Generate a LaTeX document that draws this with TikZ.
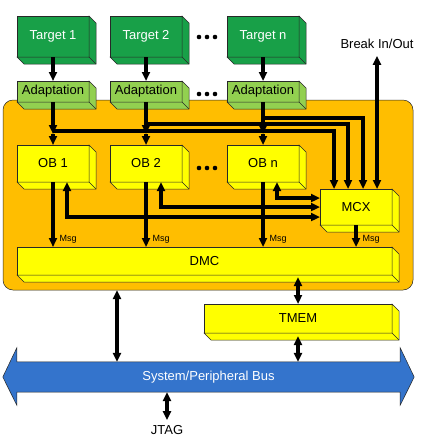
\documentclass[tikz,border=0pt]{standalone}
\usepackage{fontspec}
\setmainfont{Liberation Sans}
\usetikzlibrary{arrows.meta,backgrounds}
\definecolor{tgreen}{RGB}{24,160,72}
\definecolor{agreen}{RGB}{146,208,80}
\definecolor{byellow}{RGB}{255,255,0}
\definecolor{corange}{RGB}{255,190,0}
\definecolor{busblue}{RGB}{52,116,204}
\definecolor{boxline}{RGB}{40,40,40}
\newcommand\boxsides[2]{%
  \filldraw[fill=#2,draw=boxline,line width=0.5pt]
    (#1.north east) -- ++(7pt,-7pt) -- ([shift={(7pt,-7pt)}]#1.south east)
    -- ([shift={(7pt,-7pt)}]#1.south west) -- (#1.south west) -- (#1.south east) -- cycle;
  \draw[boxline,line width=0.5pt] (#1.south east) -- ++(7pt,-7pt);
}
\tikzset{
  box/.style={draw=boxline, line width=0.5pt, inner sep=0pt, outer sep=0pt,
    font=\fontsize{13}{15}\selectfont},
  tbox/.style={box, fill=tgreen, text=white, minimum width=72pt, minimum height=41pt},
  abox/.style={box, fill=agreen, minimum width=72pt, minimum height=21pt},
  obox/.style={box, fill=byellow, minimum width=72pt, minimum height=37pt},
  arr/.style={line width=3.4pt, -{Triangle[length=9pt,width=8pt]}},
  arr2/.style={line width=3.4pt, {Triangle[length=9pt,width=8pt]}-{Triangle[length=9pt,width=8pt]}},
  msg/.style={font=\fontsize{9}{10}\selectfont, anchor=west, inner sep=0pt},
  lbl/.style={font=\fontsize{13}{15}\selectfont, inner sep=0pt},
}
\begin{document}
\begin{tikzpicture}[x=1pt,y=-1pt]
\useasboundingbox (0,0) rectangle (433,445);
% core region
\node[draw=boxline, line width=0.5pt, fill=corange, rounded corners=10pt,
      minimum width=410pt, minimum height=190pt, inner sep=0pt, outer sep=0pt] (core) at (208,195) {};
% targets
\node[tbox] (T1) at (53,36.5) {Target 1};
\node[tbox] (T2) at (146,36.5) {Target 2};
\node[tbox] (Tn) at (263,36.5) {Target n};
\boxsides{T1}{tgreen}\boxsides{T2}{tgreen}\boxsides{Tn}{tgreen}
% adaptation
\node[abox] (A1) at (53,91.5) {Adaptation};
\node[abox] (A2) at (146,91.5) {Adaptation};
\node[abox] (An) at (263,91.5) {Adaptation};
\boxsides{A1}{agreen}\boxsides{A2}{agreen}\boxsides{An}{agreen}
% OBs
\node[obox] (OB1) at (53,163.5) {OB 1};
\node[obox] (OB2) at (146,163.5) {OB 2};
\node[obox] (OBn) at (263,163.5) {OB n};
\boxsides{OB1}{byellow}\boxsides{OB2}{byellow}\boxsides{OBn}{byellow}
% MCX
\node[box, fill=byellow, minimum width=72pt, minimum height=36pt] (MCX) at (356,207) {MCX};
\boxsides{MCX}{byellow}
% DMC
\node[box, fill=byellow, minimum width=375pt, minimum height=28pt] (DMC) at (204.5,261) {DMC};
\boxsides{DMC}{byellow}
% TMEM
\node[box, fill=byellow, minimum width=188pt, minimum height=29pt] (TMEM) at (298,318.5) {TMEM};
\boxsides{TMEM}{byellow}
% bus
\node[lbl, text=white, minimum width=383pt, minimum height=30pt] (bus) at (208.5,377) {System/Peripheral Bus};
\begin{scope}[on background layer]
\filldraw[fill=busblue, draw=boxline, line width=0.5pt]
  ([xshift=-14pt]bus.west) -- ([yshift=14pt]bus.north west) -- (bus.north west)
  -- (bus.north east) -- ([yshift=14pt]bus.north east) -- ([xshift=14pt]bus.east)
  -- ([yshift=-13pt]bus.south east) -- (bus.south east) -- (bus.south west)
  -- ([yshift=-13pt]bus.south west) -- cycle;
\end{scope}
% labels
\node[lbl] (brk) at (377,44) {Break In/Out};
\node[lbl] (jtag) at (167,430) {JTAG};
% dots
\foreach \yy in {37,94,168} {
  \foreach \xx in {199,207,215} { \fill (\xx,\yy) circle (2.3pt); }
}
% coordinates
\coordinate (m1) at (53,134);
\coordinate (m2) at (146,134);
\coordinate (mn) at (263,134);
\coordinate (b1) at (53,131);
\coordinate (b2) at (146,124);
\coordinate (bn) at (263,118);
\coordinate (mc1) at ([xshift=-22pt]MCX.north);
\coordinate (mc2) at ([xshift=-8pt]MCX.north);
\coordinate (mc3) at ([xshift=7pt]MCX.north);
\coordinate (mc4) at ([xshift=21pt]MCX.north);
\coordinate (cb) at (117,290);
% target -> adaptation
\draw[arr] (T1.south) -- (A1.north);
\draw[arr] (T2.south) -- (A2.north);
\draw[arr] (Tn.south) -- (An.north);
% adaptation -> OB
\draw[arr] (A1.south) -- (m1);
\draw[arr] (A2.south) -- (m2);
\draw[arr] (An.south) -- (mn);
\draw[arr] (m1) -- (OB1.north);
\draw[arr] (m2) -- (OB2.north);
\draw[arr] (mn) -- (OBn.north);
% branches to MCX
\draw[arr] (b1) -| (mc1);
\draw[arr] (b2) -| (mc2);
\draw[arr] (bn) -| (mc3);
\draw[arr2] ([yshift=-7pt]brk.south) -- (mc4);
% OB <-> MCX
\draw[arr2] ([xshift=14pt]OBn.south) |- ([yshift=9pt]MCX.west);
\draw[arr2] ([xshift=15pt]OB2.south) |- (MCX.west);
\draw[arr2] ([xshift=14pt]OB1.south) |- ([yshift=-10pt]MCX.west);
% Msg arrows
\draw[arr] (OB1.south) -- (OB1.south |- DMC.north) node[msg, at end, xshift=5pt, yshift=8pt] {Msg};
\draw[arr] (OB2.south) -- (OB2.south |- DMC.north) node[msg, at end, xshift=5pt, yshift=8pt] {Msg};
\draw[arr] (OBn.south) -- (OBn.south |- DMC.north) node[msg, at end, xshift=5pt, yshift=8pt] {Msg};
\draw[arr] (MCX.south) -- (MCX.south |- DMC.north) node[msg, at end, xshift=5pt, yshift=8pt] {Msg};
% lower links
\draw[arr2] ([yshift=-2pt]DMC.south -| TMEM.north) -- (TMEM.north);
\draw[arr2] ([yshift=-3pt]TMEM.south) -- (TMEM.south |- bus.north);
\draw[arr2] (core.south -| cb) -- (bus.north -| cb);
\draw[arr2] (bus.south -| jtag.north) -- ([yshift=5pt]jtag.north);
\end{tikzpicture}
\end{document}
